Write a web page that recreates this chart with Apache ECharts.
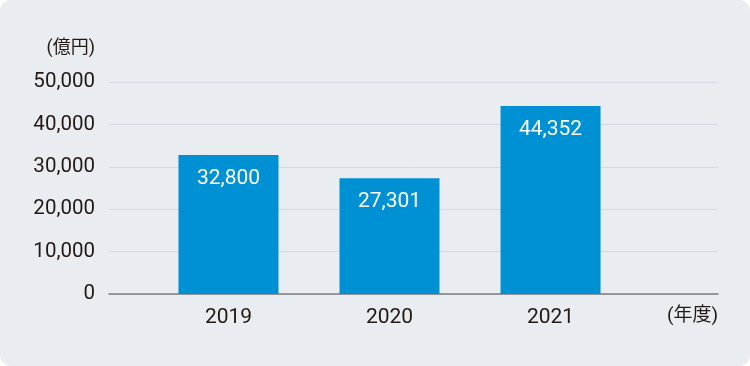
<!DOCTYPE html>
<html>
<head>
<meta charset="utf-8">
<script src="https://cdn.jsdelivr.net/npm/echarts@6/dist/echarts.min.js"></script>
<style>
html,body{margin:0;padding:0;background:#ffffff;}
#wrap{position:absolute;left:0;top:0;width:750px;height:366px;background:#e9ecf0;border-radius:11px;overflow:hidden;}
#chart{width:750px;height:366px;}
</style>
</head>
<body>
<div id="wrap"><div id="chart"></div></div>
<script>
const years = [2019, 2020, 2021];
const values = [32800, 27301, 44352];
const yTicks = [0, 10000, 20000, 30000, 40000, 50000];
const yUnit = '(億円)';
const xUnit = '(年度)';

const fmt = v => v.toLocaleString('en-US');
const font = 'Roboto, "Noto Sans CJK JP", sans-serif';

const chart = echarts.init(document.getElementById('chart'), null, {renderer: 'canvas'});
chart.setOption({
  backgroundColor: 'transparent',
  animation: false,
  grid: {left: 109, right: 32, top: 82, bottom: 72, containLabel: false},
  xAxis: {
    type: 'value',
    min: 2018.258,
    max: 2022.04,
    splitLine: {show: false},
    axisLine: {show: true, lineStyle: {color: '#7d7d7d', width: 1.5}},
    axisTick: {show: false},
    axisLabel: {
      customValues: years,
      formatter: v => String(v),
      color: '#231815', fontSize: 21, fontFamily: font, margin: 13
    },
    name: xUnit,
    nameLocation: 'end',
    nameGap: 0,
    nameTextStyle: {
      color: '#231815', fontSize: 19, fontFamily: font,
      align: 'right', verticalAlign: 'top', padding: [13, 0, 0, 0]
    }
  },
  yAxis: {
    type: 'value',
    min: yTicks[0],
    max: yTicks[yTicks.length - 1],
    interval: yTicks[1] - yTicks[0],
    axisLine: {show: false},
    axisTick: {show: false},
    splitLine: {lineStyle: {color: '#d3dae3', width: 1}},
    axisLabel: {
      formatter: v => fmt(v),
      color: '#231815', fontSize: 20.5, fontFamily: font, margin: 14
    },
    name: yUnit,
    nameLocation: 'end',
    nameGap: 34,
    nameTextStyle: {
      color: '#231815', fontSize: 18, fontFamily: font,
      align: 'right', verticalAlign: 'middle', padding: [0, 14, 0, 0]
    }
  },
  series: [{
    type: 'bar',
    data: years.map((y, i) => [y, values[i]]),
    barWidth: 100,
    itemStyle: {color: '#0091d5'},
    label: {
      show: true,
      position: 'insideTop',
      distance: 13,
      formatter: p => fmt(p.value[1]),
      color: '#ffffff', fontSize: 21, fontFamily: font
    }
  }]
});
</script>
</body>
</html>
